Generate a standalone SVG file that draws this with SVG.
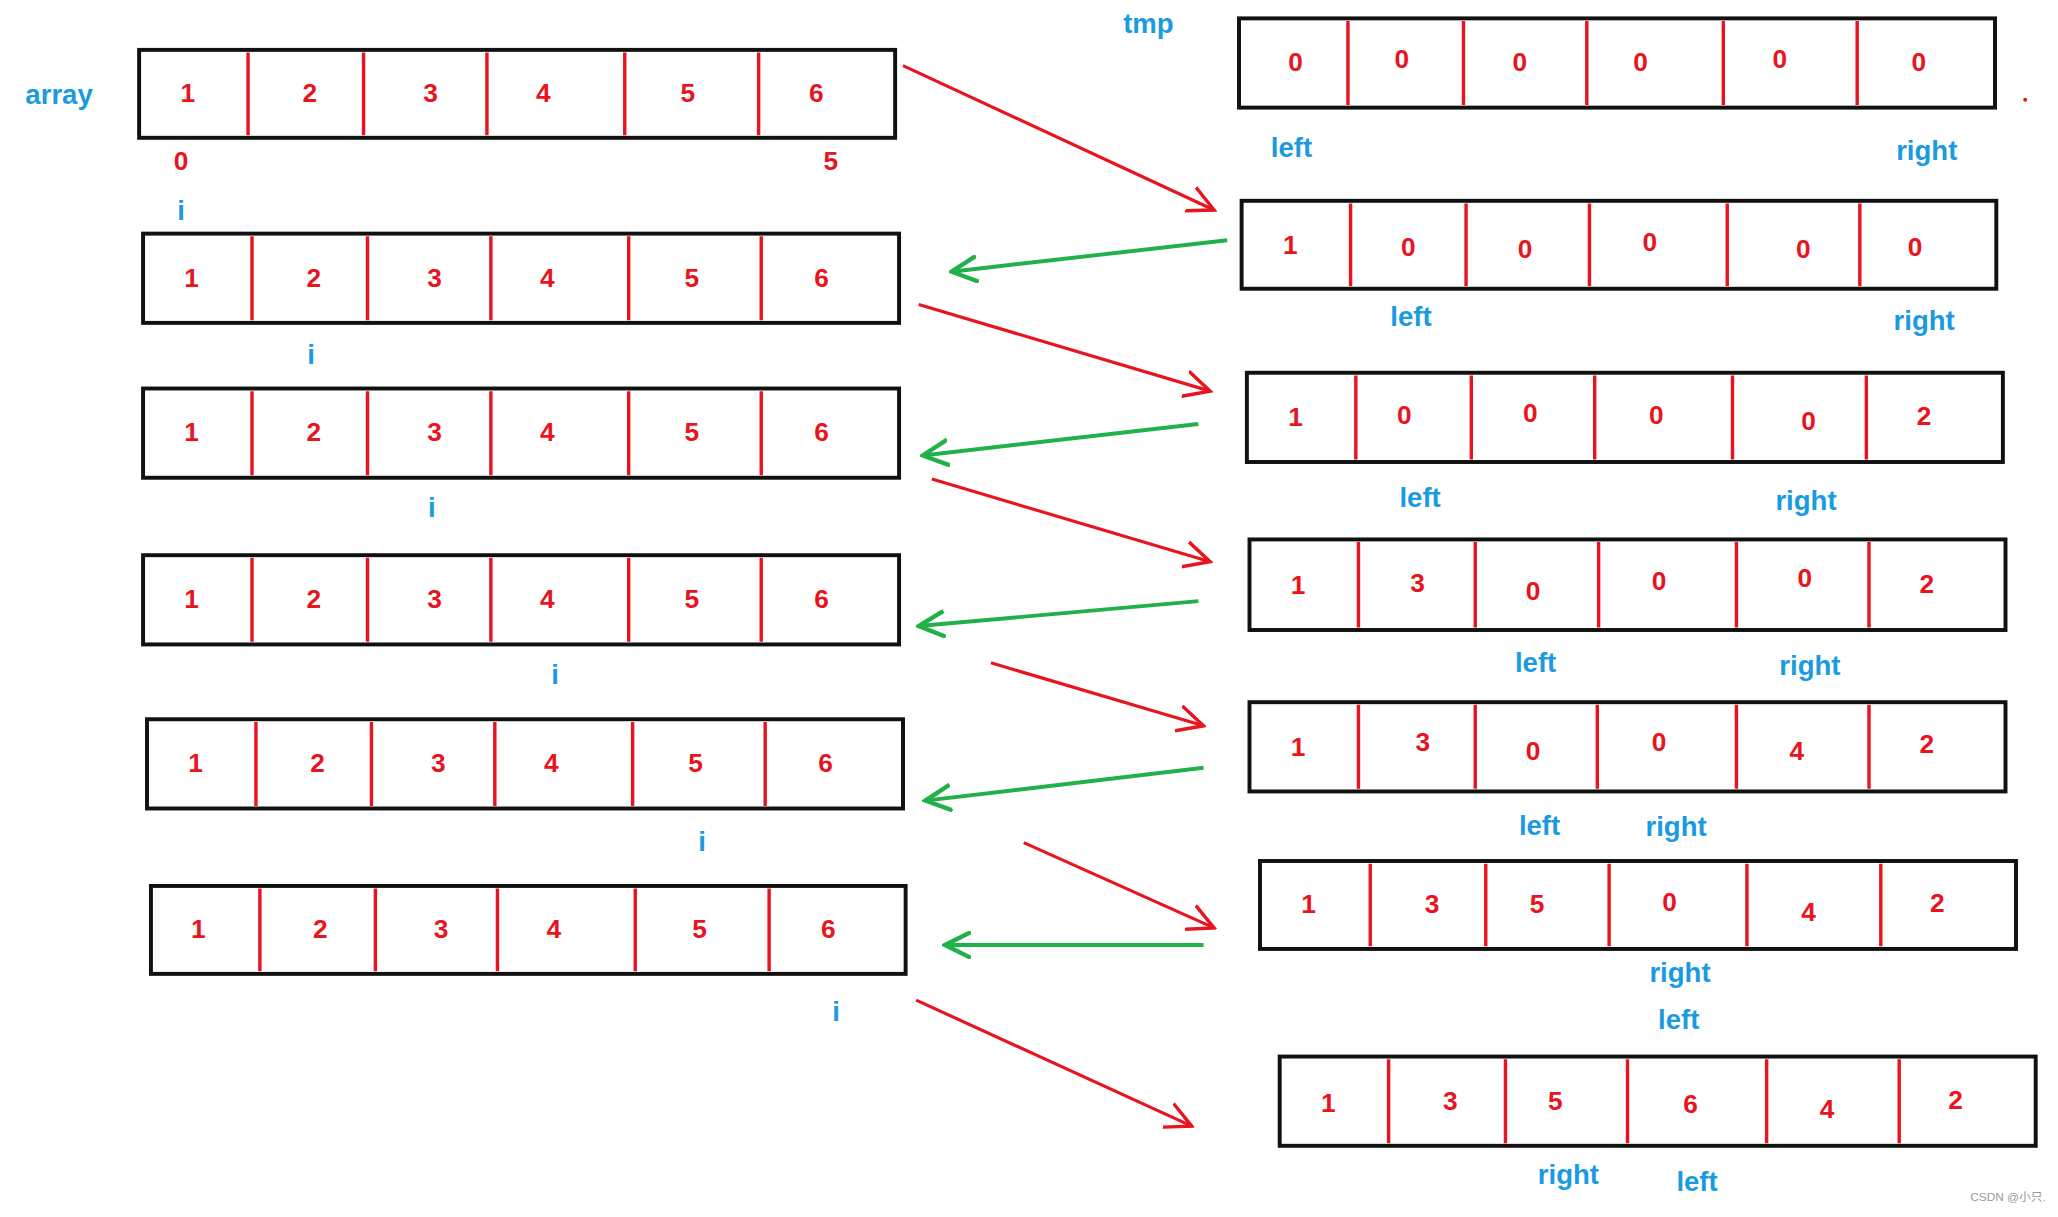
<svg xmlns="http://www.w3.org/2000/svg" width="2058" height="1217" viewBox="0 0 2058 1217">
<style>
.box{fill:none;stroke:#111;stroke-width:3}
.dv{stroke:#e8141e;stroke-width:2.6}
.n{fill:#e8141e;font:bold 20px "Liberation Sans",Arial,sans-serif;text-anchor:middle;dominant-baseline:central}
.b{fill:#1a9be0;font:bold 21px "Liberation Sans",Arial,sans-serif;text-anchor:middle;dominant-baseline:central}
.r{stroke:#e8141e;stroke-width:2.4;fill:none}
.g{stroke:#22b04a;stroke-width:3;fill:none}
</style>
<defs>
<marker id="mr" viewBox="0 0 20 20" refX="18" refY="10" markerWidth="22" markerHeight="22" markerUnits="userSpaceOnUse" orient="auto"><polyline points="0,1 18,10 0,19" fill="none" stroke="#e8141e" stroke-width="2.4"/></marker>
<marker id="mg" viewBox="0 0 20 20" refX="18" refY="10" markerWidth="22" markerHeight="22" markerUnits="userSpaceOnUse" orient="auto"><polyline points="0,1 18,10 0,19" fill="none" stroke="#22b04a" stroke-width="3"/></marker>
</defs>
<rect width="2058" height="1217" fill="#fff"/>
<g transform="scale(1.3125)">
<g id="labels">
<text class="b" x="45" y="72">array</text><text class="n" x="138" y="123">0</text><text class="n" x="633" y="123">5</text>
<text class="b" x="138" y="160">i</text><text class="b" x="237" y="270">i</text><text class="b" x="329" y="387">i</text>
<text class="b" x="423" y="514">i</text><text class="b" x="535" y="641">i</text><text class="b" x="637" y="771">i</text>
<text class="b" x="875" y="18">tmp</text><text class="b" x="984" y="112">left</text><text class="b" x="1468" y="115">right</text>
<text class="b" x="1075" y="241">left</text><text class="b" x="1466" y="244">right</text>
<text class="b" x="1082" y="379">left</text><text class="b" x="1376" y="381">right</text>
<text class="b" x="1170" y="505">left</text><text class="b" x="1379" y="507">right</text>
<text class="b" x="1173" y="629">left</text><text class="b" x="1277" y="630">right</text>
<text class="b" x="1280" y="741">right</text><text class="b" x="1279" y="777">left</text>
<text class="b" x="1195" y="895">right</text><text class="b" x="1293" y="900">left</text>
<circle cx="1543" cy="76" r="1.5" fill="#e8141e"/>
<text x="1530" y="915" fill="#999" font-size="9" font-family="Liberation Sans,Noto Sans CJK SC,sans-serif" text-anchor="middle">CSDN @小只.</text>
</g>
<g id="array0"><rect class="box" x="106" y="38" width="576" height="67"/><path class="dv" d="M189 40V103M277 40V103M371 40V103M476 40V103M578 40V103"/>
<text class="n" x="143" y="71">1</text><text class="n" x="236" y="71">2</text><text class="n" x="328" y="71">3</text><text class="n" x="414" y="71">4</text><text class="n" x="524" y="71">5</text><text class="n" x="622" y="71">6</text></g>
<g id="array1"><rect class="box" x="109" y="178" width="576" height="68"/><path class="dv" d="M192 180V244M280 180V244M374 180V244M479 180V244M580 180V244"/>
<text class="n" x="146" y="212">1</text><text class="n" x="239" y="212">2</text><text class="n" x="331" y="212">3</text><text class="n" x="417" y="212">4</text><text class="n" x="527" y="212">5</text><text class="n" x="626" y="212">6</text></g>
<g id="array2"><rect class="box" x="109" y="296" width="576" height="68"/><path class="dv" d="M192 298V362M280 298V362M374 298V362M479 298V362M580 298V362"/>
<text class="n" x="146" y="329">1</text><text class="n" x="239" y="329">2</text><text class="n" x="331" y="329">3</text><text class="n" x="417" y="329">4</text><text class="n" x="527" y="329">5</text><text class="n" x="626" y="329">6</text></g>
<g id="array3"><rect class="box" x="109" y="423" width="576" height="68"/><path class="dv" d="M192 425V489M280 425V489M374 425V489M479 425V489M580 425V489"/>
<text class="n" x="146" y="456">1</text><text class="n" x="239" y="456">2</text><text class="n" x="331" y="456">3</text><text class="n" x="417" y="456">4</text><text class="n" x="527" y="456">5</text><text class="n" x="626" y="456">6</text></g>
<g id="array4"><rect class="box" x="112" y="548" width="576" height="68"/><path class="dv" d="M195 550V614M283 550V614M377 550V614M482 550V614M583 550V614"/>
<text class="n" x="149" y="581">1</text><text class="n" x="242" y="581">2</text><text class="n" x="334" y="581">3</text><text class="n" x="420" y="581">4</text><text class="n" x="530" y="581">5</text><text class="n" x="629" y="581">6</text></g>
<g id="array5"><rect class="box" x="115" y="675" width="575" height="67"/><path class="dv" d="M198 677V740M286 677V740M379 677V740M484 677V740M586 677V740"/>
<text class="n" x="151" y="708">1</text><text class="n" x="244" y="708">2</text><text class="n" x="336" y="708">3</text><text class="n" x="422" y="708">4</text><text class="n" x="533" y="708">5</text><text class="n" x="631" y="708">6</text></g>
<g id="tmp0"><rect class="box" x="944" y="14" width="576" height="68"/><path class="dv" d="M1027 16V80M1115 16V80M1209 16V80M1313 16V80M1415 16V80"/>
<text class="n" x="987" y="47">0</text><text class="n" x="1068" y="45">0</text><text class="n" x="1158" y="47">0</text><text class="n" x="1250" y="47">0</text><text class="n" x="1356" y="45">0</text><text class="n" x="1462" y="47">0</text></g>
<g id="tmp1"><rect class="box" x="946" y="153" width="575" height="67"/><path class="dv" d="M1029 155V218M1117 155V218M1211 155V218M1316 155V218M1417 155V218"/>
<text class="n" x="983" y="187">1</text><text class="n" x="1073" y="188">0</text><text class="n" x="1162" y="190">0</text><text class="n" x="1257" y="184">0</text><text class="n" x="1374" y="190">0</text><text class="n" x="1459" y="188">0</text></g>
<g id="tmp2"><rect class="box" x="950" y="284" width="576" height="68"/><path class="dv" d="M1033 286V350M1121 286V350M1215 286V350M1320 286V350M1422 286V350"/>
<text class="n" x="987" y="318">1</text><text class="n" x="1070" y="316">0</text><text class="n" x="1166" y="315">0</text><text class="n" x="1262" y="316">0</text><text class="n" x="1378" y="321">0</text><text class="n" x="1466" y="317">2</text></g>
<g id="tmp3"><rect class="box" x="952" y="411" width="576" height="69"/><path class="dv" d="M1035 413V478M1124 413V478M1218 413V478M1323 413V478M1424 413V478"/>
<text class="n" x="989" y="446">1</text><text class="n" x="1080" y="444">3</text><text class="n" x="1168" y="450">0</text><text class="n" x="1264" y="443">0</text><text class="n" x="1375" y="440">0</text><text class="n" x="1468" y="445">2</text></g>
<g id="tmp4"><rect class="box" x="952" y="535" width="576" height="68"/><path class="dv" d="M1035 537V601M1124 537V601M1217 537V601M1323 537V601M1424 537V601"/>
<text class="n" x="989" y="569">1</text><text class="n" x="1084" y="565">3</text><text class="n" x="1168" y="572">0</text><text class="n" x="1264" y="565">0</text><text class="n" x="1369" y="572">4</text><text class="n" x="1468" y="567">2</text></g>
<g id="tmp5"><rect class="box" x="960" y="656" width="576" height="67"/><path class="dv" d="M1044 658V721M1132 658V721M1226 658V721M1331 658V721M1433 658V721"/>
<text class="n" x="997" y="689">1</text><text class="n" x="1091" y="689">3</text><text class="n" x="1171" y="689">5</text><text class="n" x="1272" y="687">0</text><text class="n" x="1378" y="695">4</text><text class="n" x="1476" y="688">2</text></g>
<g id="tmp6"><rect class="box" x="975" y="805" width="576" height="68"/><path class="dv" d="M1058 807V871M1147 807V871M1240 807V871M1346 807V871M1447 807V871"/>
<text class="n" x="1012" y="840">1</text><text class="n" x="1105" y="839">3</text><text class="n" x="1185" y="839">5</text><text class="n" x="1288" y="841">6</text><text class="n" x="1392" y="845">4</text><text class="n" x="1490" y="838">2</text></g>
<g id="connectors">
<line class="r" x1="688" y1="50" x2="925" y2="160" marker-end="url(#mr)"/>
<line class="r" x1="700" y1="232" x2="922" y2="298" marker-end="url(#mr)"/>
<line class="r" x1="710" y1="365" x2="922" y2="428" marker-end="url(#mr)"/>
<line class="r" x1="755" y1="505" x2="917" y2="553" marker-end="url(#mr)"/>
<line class="r" x1="780" y1="642" x2="925" y2="707" marker-end="url(#mr)"/>
<line class="r" x1="698" y1="762" x2="908" y2="858" marker-end="url(#mr)"/>
<line class="g" x1="935" y1="183" x2="725" y2="207" marker-end="url(#mg)"/>
<line class="g" x1="913" y1="323" x2="703" y2="347" marker-end="url(#mg)"/>
<line class="g" x1="913" y1="458" x2="700" y2="477" marker-end="url(#mg)"/>
<line class="g" x1="917" y1="585" x2="705" y2="610" marker-end="url(#mg)"/>
<line class="g" x1="917" y1="720" x2="720" y2="720" marker-end="url(#mg)"/>
</g>
</g>
</svg>
